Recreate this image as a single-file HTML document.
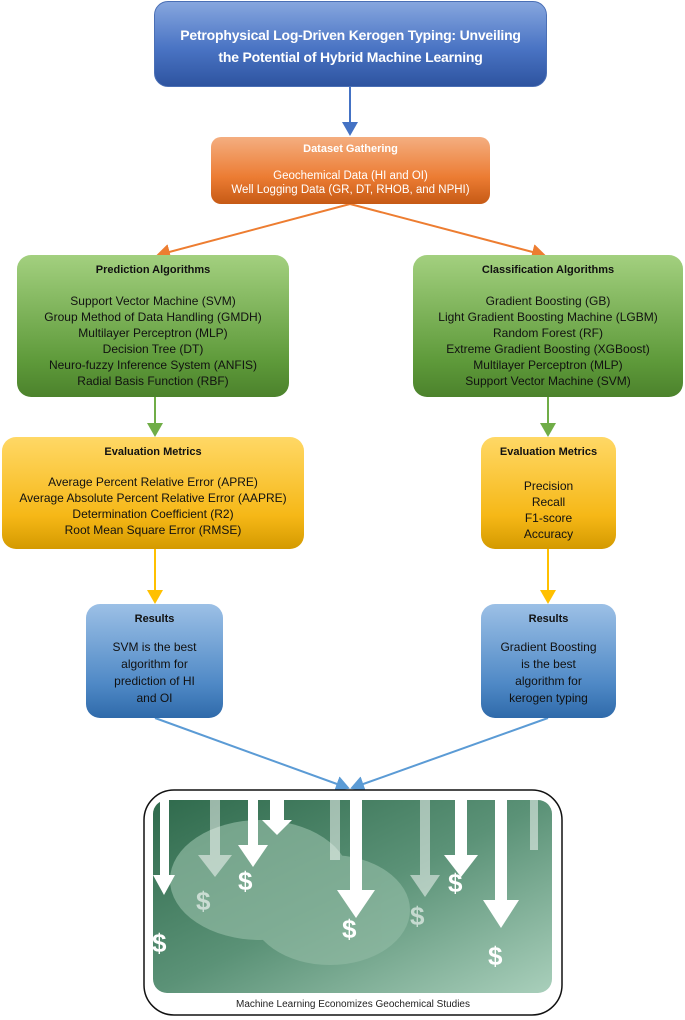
<!DOCTYPE html>
<html><head><style>
body{margin:0;width:685px;height:1020px;background:#fff;font-family:"Liberation Sans",sans-serif;position:relative;overflow:hidden}
.b{position:absolute;box-sizing:border-box;text-align:center;border-radius:14px}
.t{font-weight:bold;font-size:11px;margin-top:9px}
.l{font-size:12px;line-height:16px}
.g{background:linear-gradient(#a3d07f,#5e9a3a 75%,#4c822c);color:#111}
.y{background:linear-gradient(#ffd866,#f6b817 70%,#d49a00);color:#111}
.bl{background:linear-gradient(#9cc0e6,#4f89c6 70%,#2f6aaa);color:#111}
</style></head><body>
<svg width="685" height="1020" style="position:absolute;left:0;top:0">
<defs>
<marker id="mb" markerWidth="8" markerHeight="8" refX="6" refY="4" orient="auto"><path d="M0,0L7,4L0,8z" fill="#4472c4"/></marker>
<marker id="mo" markerWidth="8" markerHeight="8" refX="6" refY="4" orient="auto"><path d="M0,0L7,4L0,8z" fill="#ed7d31"/></marker>
<marker id="mg" markerWidth="8" markerHeight="8" refX="6" refY="4" orient="auto"><path d="M0,0L7,4L0,8z" fill="#70ad47"/></marker>
<marker id="my" markerWidth="8" markerHeight="8" refX="6" refY="4" orient="auto"><path d="M0,0L7,4L0,8z" fill="#ffc000"/></marker>
<marker id="ml" markerWidth="8" markerHeight="8" refX="6" refY="4" orient="auto"><path d="M0,0L7,4L0,8z" fill="#5b9bd5"/></marker>
</defs>
<line x1="350" y1="87" x2="350" y2="134" stroke="#4472c4" stroke-width="2" marker-end="url(#mb)"/>
<line x1="350" y1="204" x2="158" y2="255" stroke="#ed7d31" stroke-width="2" marker-end="url(#mo)"/>
<line x1="350" y1="204" x2="544" y2="255" stroke="#ed7d31" stroke-width="2" marker-end="url(#mo)"/>
<line x1="155" y1="397" x2="155" y2="435" stroke="#70ad47" stroke-width="2" marker-end="url(#mg)"/>
<line x1="548" y1="397" x2="548" y2="435" stroke="#70ad47" stroke-width="2" marker-end="url(#mg)"/>
<line x1="155" y1="549" x2="155" y2="602" stroke="#ffc000" stroke-width="2" marker-end="url(#my)"/>
<line x1="548" y1="549" x2="548" y2="602" stroke="#ffc000" stroke-width="2" marker-end="url(#my)"/>
<line x1="155" y1="718" x2="348" y2="788" stroke="#5b9bd5" stroke-width="2" marker-end="url(#ml)"/>
<line x1="548" y1="718" x2="352" y2="788" stroke="#5b9bd5" stroke-width="2" marker-end="url(#ml)"/>
<rect x="144" y="790" width="418" height="225" rx="30" fill="#fff" stroke="#111" stroke-width="1.5"/>
<defs><linearGradient id="gi" x1="0" y1="0" x2="1" y2="1"><stop offset="0" stop-color="#2f6a4c"/><stop offset="0.5" stop-color="#5b9277"/><stop offset="1" stop-color="#a9cfbb"/></linearGradient></defs>
<rect x="153" y="800" width="399" height="193" rx="14" fill="url(#gi)"/>
<g fill="#8fb9a2" opacity="0.7"><ellipse cx="260" cy="880" rx="90" ry="60"/><ellipse cx="330" cy="910" rx="80" ry="55"/></g>
<g fill="#fff">
<rect x="160" y="800" width="9" height="75"/><path d="M153,875h22l-11,20z"/>
<rect x="248" y="800" width="10" height="45"/><path d="M238,845h30l-15,22z"/>
<rect x="350" y="800" width="12" height="90"/><path d="M337,890h38l-19,28z"/>
<rect x="455" y="800" width="12" height="55"/><path d="M444,855h34l-17,22z"/>
<rect x="495" y="800" width="12" height="100"/><path d="M483,900h36l-18,28z"/>
<rect x="270" y="800" width="14" height="20"/><path d="M262,820h30l-15,15z"/>
</g>
<g fill="#fff" opacity="0.5"><rect x="210" y="800" width="10" height="55"/><path d="M198,855h34l-17,22z"/><rect x="420" y="800" width="10" height="75"/><path d="M410,875h30l-15,22z"/><rect x="530" y="800" width="8" height="50"/><rect x="330" y="800" width="10" height="60"/></g>
<g fill="#fff" font-weight="bold" font-family="Liberation Sans" font-size="26">
<text x="152" y="952">$</text><text x="238" y="890">$</text><text x="342" y="938">$</text><text x="448" y="892">$</text><text x="488" y="965">$</text>
<text x="196" y="910" opacity="0.6">$</text><text x="410" y="925" opacity="0.6">$</text>
</g>
<text x="353" y="1007" text-anchor="middle" font-size="10" font-family="Liberation Sans" fill="#222">Machine Learning Economizes Geochemical Studies</text>
</svg>
<div class="b" style="left:154px;top:1px;width:393px;height:86px;background:linear-gradient(#86a6de,#4a74c4 55%,#2e54a0);color:#fff;font-weight:bold;font-size:14px;line-height:22px;padding-top:22px;border:1px solid #4a6fb5;white-space:nowrap;letter-spacing:-0.2px">Petrophysical Log-Driven Kerogen Typing: Unveiling<br>the Potential of Hybrid Machine Learning</div>
<div class="b" style="left:211px;top:137px;width:279px;height:67px;background:linear-gradient(#f4ae80,#ec7c33 60%,#c65a15);color:#fff;border-radius:10px"><div class="t" style="margin-top:6px">Dataset Gathering</div><div class="l" style="margin-top:14px;line-height:14px;font-size:11.5px">Geochemical Data (HI and OI)<br>Well Logging Data (GR, DT, RHOB, and NPHI)</div></div>
<div class="b g" style="left:17px;top:255px;width:272px;height:142px"><div class="t">Prediction Algorithms</div><div class="l" style="margin-top:17px">Support Vector Machine (SVM)<br>Group Method of Data Handling (GMDH)<br>Multilayer Perceptron (MLP)<br>Decision Tree (DT)<br>Neuro-fuzzy Inference System (ANFIS)<br>Radial Basis Function (RBF)</div></div>
<div class="b g" style="left:413px;top:255px;width:270px;height:142px"><div class="t">Classification Algorithms</div><div class="l" style="margin-top:17px">Gradient Boosting (GB)<br>Light Gradient Boosting Machine (LGBM)<br>Random Forest (RF)<br>Extreme Gradient Boosting (XGBoost)<br>Multilayer Perceptron (MLP)<br>Support Vector Machine (SVM)</div></div>
<div class="b y" style="left:2px;top:437px;width:302px;height:112px"><div class="t">Evaluation Metrics</div><div class="l" style="margin-top:16px">Average Percent Relative Error (APRE)<br>Average Absolute Percent Relative Error (AAPRE)<br>Determination Coefficient (R2)<br>Root Mean Square Error (RMSE)</div></div>
<div class="b y" style="left:481px;top:437px;width:135px;height:112px"><div class="t">Evaluation Metrics</div><div class="l" style="margin-top:20px">Precision<br>Recall<br>F1-score<br>Accuracy</div></div>
<div class="b bl" style="left:86px;top:604px;width:137px;height:114px"><div class="t">Results</div><div class="l" style="margin-top:14px;line-height:17px">SVM is the best<br>algorithm for<br>prediction of HI<br>and OI</div></div>
<div class="b bl" style="left:481px;top:604px;width:135px;height:114px"><div class="t">Results</div><div class="l" style="margin-top:14px;line-height:17px">Gradient Boosting<br>is the best<br>algorithm for<br>kerogen typing</div></div>
</body></html>
